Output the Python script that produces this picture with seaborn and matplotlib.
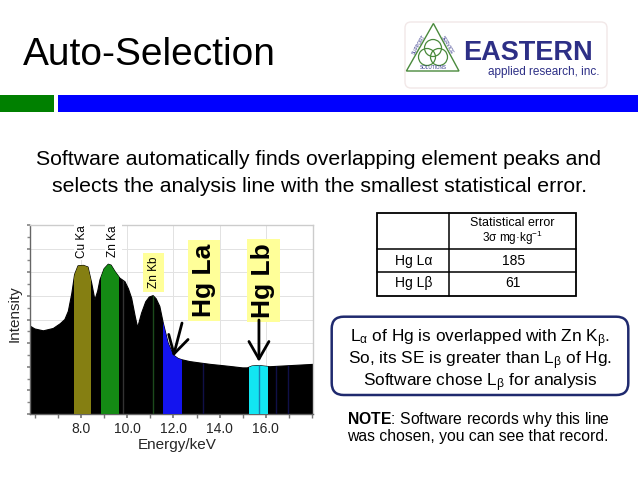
import numpy as np
import pandas as pd
import matplotlib
matplotlib.use("Agg")
import matplotlib.pyplot as plt
import seaborn as sns
from matplotlib.patches import Rectangle, FancyBboxPatch, Polygon, Circle

sns.set_theme(style="white")
plt.rcParams['font.family'] = ['Liberation Sans', 'DejaVu Sans']
plt.rcParams['mathtext.fontset'] = 'custom'
plt.rcParams['mathtext.rm'] = 'Liberation Sans'
plt.rcParams['mathtext.it'] = 'Liberation Sans'
plt.rcParams['mathtext.bf'] = 'Liberation Sans:bold'
plt.rcParams['text.color'] = 'black'

# ---------------- data ----------------
energy = [5.8, 6.0, 6.37, 6.8, 7.1, 7.3, 7.45, 7.6, 7.72, 7.87, 8.1, 8.3, 8.46,
          8.6, 8.72, 8.82, 9.0, 9.18, 9.3, 9.47, 9.68, 9.9, 10.05, 10.19, 10.35,
          10.45, 10.62, 10.8, 10.95, 11.12, 11.25, 11.41, 11.56, 11.77, 11.99,
          12.2, 12.35, 12.7, 13.14, 13.6, 14.1, 14.57, 15.0, 15.2, 15.4, 15.7,
          16.17, 16.73, 17.3, 18.04]
intensity = [3.72, 3.6, 3.52, 3.62, 3.82, 4.0, 4.35, 5.1, 5.9, 6.27, 6.29, 6.22, 5.54,
             4.83, 5.2, 5.68, 6.15, 6.34, 6.3, 6.03, 5.75, 5.6, 5.3, 4.9, 4.1,
             3.66, 4.27, 4.75, 4.95, 5.01, 4.88, 4.55, 3.84, 3.0, 2.5,
             2.35, 2.3, 2.22, 2.16, 2.1, 2.05, 2.0, 1.95, 1.95, 2.03, 2.05,
             2.0, 2.03, 2.06, 2.1]

band_labels = ["Cu Ka", "Zn Ka", "Hg La", "Hg Lb"]
band_start = [7.70, 8.85, 11.56, 15.27]
band_end = [8.43, 9.64, 12.35, 16.11]
band_colors = ["#857f12", "#148a14", "#1414ee", "#12e6f2"]

line_pos = [9.83, 11.10, 13.28, 15.70, 16.45, 16.94]
line_colors = ["#333333", "#1c4a1c", "#101048", "#1a7fb0", "#101048", "#101048"]

xtick_vals = [8.0, 10.0, 12.0, 14.0, 16.0]
xtick_labels = ["8.0", "10.0", "12.0", "14.0", "16.0"]

table_header = ["Statistical error", "3σ mg·kg$^{-1}$"]
table_rows = ["Hg Lα", "Hg Lβ"]
table_values = ["185", "61"]

title = "Auto-Selection"
subtitle = ["Software automatically finds overlapping element peaks and",
            "selects the analysis line with the smallest statistical error."]
box_lines = [r"L$_{\alpha}$ of Hg is overlapped with Zn K$_{\beta}$.",
             r"So, its SE is greater than L$_{\beta}$ of Hg.",
             r"Software chose L$_{\beta}$ for analysis"]
note_lines = [r"$\bf{NOTE}$: Software records why this line",
              "was chosen, you can see that record."]

# ---------------- figure ----------------
W, H = 638, 478
fig = plt.figure(figsize=(W / 100, H / 100), dpi=100)
fig.patch.set_facecolor("white")
bg = fig.add_axes([0, 0, 1, 1])
bg.set_xlim(0, W)
bg.set_ylim(H, 0)
bg.axis("off")

# title and header bars
bg.text(22.7, 65, title, fontsize=28, ha="left", va="baseline")
bg.add_patch(Rectangle((0, 95), 54, 16.7, fc="#008000", ec="none"))
bg.add_patch(Rectangle((57.7, 95), W - 57.7, 16.7, fc="#0000ff", ec="none"))

# logo
navy = "#2d2f86"
lgreen = "#4a8a3c"
bg.add_patch(FancyBboxPatch((405, 22), 202, 66, boxstyle="round,pad=0,rounding_size=6",
                            fc="white", ec="#f2e8e8", lw=1))
bg.add_patch(Polygon([(433.4, 23.5), (406.4, 71), (459, 71)], closed=True,
                     fill=False, ec=lgreen, lw=1))
for cx, cy in [(433, 48), (427, 57), (439, 57)]:
    bg.add_patch(Circle((cx, cy), 8.5, fill=False, ec=lgreen, lw=0.9))
bg.text(433, 67.5, "SOLUTIONS", fontsize=3.3, ha="center", va="center", color=navy)
bg.text(419, 45, "SUPPORT", fontsize=3.3, ha="center", va="center", color=navy, rotation=60)
bg.text(447.5, 45, "SERVICE", fontsize=3.3, ha="center", va="center", color=navy, rotation=-60)
bg.text(463, 60.3, "EASTERN", fontsize=19.5, fontweight="bold", ha="left",
        va="baseline", color=navy)
for yy in [44.5, 47.5, 50.5]:
    bg.plot([463, 598], [yy, yy], color="white", lw=0.8)
bg.text(600, 72, "applied research, inc.", fontsize=8.5, ha="right", va="center",
        color=navy)

# subtitle
bg.text(319, 165.2, subtitle[0], fontsize=15.3, ha="center", va="baseline")
bg.text(319, 192.4, subtitle[1], fontsize=15.3, ha="center", va="baseline")

# table
tl, tr, tc = 376.7, 576, 449.3
tt, tb = 212.7, 296
r1, r2 = 249.3, 271.7
bg.add_patch(Rectangle((tl, tt), tr - tl, tb - tt, fill=False, ec="black", lw=1.3))
bg.plot([tc, tc], [tt, tb], color="black", lw=1.1)
bg.plot([tl, tr], [r1, r1], color="black", lw=1.1)
bg.plot([tl, tr], [r2, r2], color="black", lw=1.1)
bg.text(512.7, 223.3, table_header[0], fontsize=9, ha="center", va="center")
bg.text(512.7, 238.3, table_header[1], fontsize=8.5, ha="center", va="center")
for yy, lab, val in zip([261, 283.3], table_rows, table_values):
    bg.text(413.3, yy, lab, fontsize=10, ha="center", va="center")
    bg.text(513.3, yy, val, fontsize=10, ha="center", va="center")

# rounded info box
bg.add_patch(FancyBboxPatch((331.7, 316.7), 296.6, 78.3,
                            boxstyle="round,pad=0,rounding_size=12",
                            fc="white", ec="#1f2a6e", lw=1.8))
for yy, txt in zip([342.3, 364.3, 386.0], box_lines):
    bg.text(480, yy, txt, fontsize=12.4, ha="center", va="baseline")

# note
for yy, txt in zip([424, 440.7], note_lines):
    bg.text(346.7, yy, txt, fontsize=11.3, ha="left", va="baseline")

# ---------------- spectrum chart ----------------
ax = fig.add_axes([30 / W, (H - 414) / H, 283 / W, 189 / H])
ax.set_facecolor("white")
df = pd.DataFrame({"energy": energy, "intensity": intensity})

poly = ax.fill(np.r_[energy[0], energy, energy[-1]], np.r_[0, intensity, 0],
               color="black", lw=0, zorder=2)[0]
sns.lineplot(data=df, x="energy", y="intensity", color="black", lw=0.8,
             ax=ax, zorder=2.1, sort=False)

for s, e, c in zip(band_start, band_end, band_colors):
    span = ax.axvspan(s, e, color=c, lw=0, zorder=3)
    span.set_clip_path(poly)
for xp, c in zip(line_pos, line_colors):
    ln = ax.axvline(xp, color=c, lw=1.0, zorder=4)
    ln.set_clip_path(poly)

ax.set_xlim(5.79, 18.04)
ax.set_ylim(0, 8)
ax.set_xticks(xtick_vals)
ax.set_xticklabels(xtick_labels)
ax.set_xticks(np.arange(6, 19, 1), minor=True)
ax.set_yticks(np.arange(0, 9, 1))
ax.set_yticklabels([])
ax.set_yticks(np.arange(0, 8.01, 0.5), minor=True)
ax.grid(True, which="major", color="#e2e2e2", lw=0.7)
ax.set_axisbelow(True)
ax.tick_params(axis="x", which="both", direction="out", length=3, color="#777777",
               labelsize=10, pad=3, bottom=True)
ax.tick_params(axis="y", which="both", direction="out", length=2, color="#888888",
               left=True)
for side in ["left", "bottom"]:
    ax.spines[side].set_color("#666666")
    ax.spines[side].set_linewidth(1.0)
for side in ["top", "right"]:
    ax.spines[side].set_color("#cccccc")
    ax.spines[side].set_linewidth(1.0)

ax.set_xlabel("Energy/keV", fontsize=11)
ax.set_ylabel("Intensity", fontsize=11)
ax.xaxis.set_label_coords((177.3 - 30) / 283, -(437.5 - 414) / 189)
ax.yaxis.set_label_coords(-(30 - 21.5) / 283, (414 - 313.3) / 189)

# peak labels
for xp, yp, lab in [(8.03, 7.30, "Cu Ka"), (9.40, 7.33, "Zn Ka")]:
    ax.text(xp, yp, lab, rotation=90, fontsize=8.5, ha="center", va="center",
            bbox=dict(fc="white", ec="none", pad=1.5), clip_on=False, zorder=6)
ax.text(11.14, 5.99, "Zn Kb", rotation=90, fontsize=8.5, ha="center", va="center",
        bbox=dict(fc="#ffff99", ec="none", pad=3), zorder=6)
for xp, lab in [(13.32, "Hg La"), (15.89, "Hg Lb")]:
    ax.text(xp, 5.65, lab, rotation=90, fontsize=19, fontweight="bold",
            ha="center", va="center",
            bbox=dict(fc="#ffff99", ec="none", pad=3), zorder=6)

arrow_kw = dict(arrowstyle="->,head_length=0.7,head_width=0.4", lw=2,
                color="black", mutation_scale=18, shrinkA=0, shrinkB=0)
ax.annotate("", xy=(11.99, 2.43), xytext=(12.37, 3.85), arrowprops=arrow_kw, zorder=7)
ax.annotate("", xy=(15.70, 2.21), xytext=(15.70, 3.98), arrowprops=arrow_kw, zorder=7)

fig.savefig("out.png", dpi=100, facecolor="white")
